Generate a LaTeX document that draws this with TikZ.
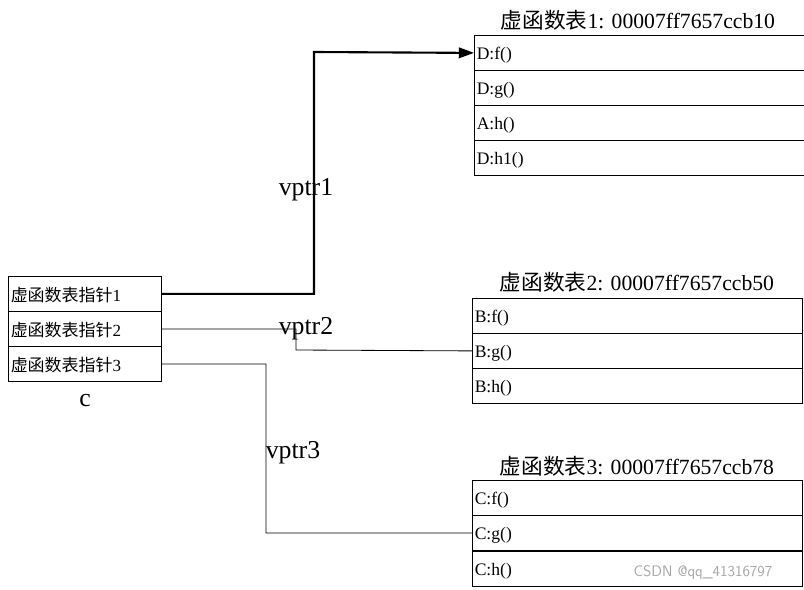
\documentclass[tikz,border=0pt]{standalone}
\usepackage{fontspec}
\setmainfont{Liberation Serif}
\newfontfamily\cjk{Noto Sans CJK SC}
\usetikzlibrary{arrows.meta,positioning}
\tikzset{
  cell/.style={draw, minimum height=35\ux, inner sep=2pt, anchor=north west, text depth=0pt},
  vtcell/.style={cell, minimum width=329\ux, align=left, text width=325\ux, font=\fontsize{15}{15}\selectfont},
  ptrcell/.style={cell, minimum width=152\ux, text width=148\ux, font=\fontsize{14.5}{14.5}\selectfont},
  title/.style={font=\fontsize{18.5}{18.5}\selectfont},
  ptrlbl/.style={font=\fontsize{22}{22}\selectfont},
}
\newlength{\ux}
\setlength{\ux}{0.03cm}
\begin{document}
\begin{tikzpicture}[x=0.03cm, y=-0.03cm, line width=0.7pt]
	\useasboundingbox (0,0) rectangle (804,590);
	% pointer table of c
	\node[ptrcell] (p1) at (8,276) {{\cjk 虚函数表指针}1};
	\node[ptrcell] (p2) at (8,311) {{\cjk 虚函数表指针}2};
	\node[ptrcell] (p3) at (8,346) {{\cjk 虚函数表指针}3};
	\node[font=\fontsize{22}{22}\selectfont] (c) at (85,401) {c};
	
	% table 1
	\node[title] (t1) at (638,20) {{\cjk 虚函数表}1: 00007ff7657ccb10};
	\node[vtcell] (a1) at (474,35) {D:f()};
	\node[vtcell] (a2) at (474,70) {D:g()};
	\node[vtcell] (a3) at (474,105) {A:h()};
	\node[vtcell] (a4) at (474,140) {D:h1()};
	
	% table 2
	\node[title] (t2) at (637,282) {{\cjk 虚函数表}2: 00007ff7657ccb50};
	\node[vtcell] (b1) at (472,298) {B:f()};
	\node[vtcell] (b2) at (472,333) {B:g()};
	\node[vtcell] (b3) at (472,368) {B:h()};
	
	% table 3
	\node[title] (t3) at (637,466) {{\cjk 虚函数表}3: 00007ff7657ccb78};
	\node[vtcell] (d1) at (472,480) {C:f()};
	\node[vtcell] (d2) at (472,515) {C:g()};
	\node[vtcell] (d3) at (472,551) {C:h()};
	
	% pointers
	\draw[line width=1.8pt, -{Triangle[length=13pt,width=9pt]}] (p1.east) -| (314,52) -- (a1.west);
	\draw (p2.east) -| (296,350) -- (b2.west);
	\draw (p3.east) -| (266,533) -- (d2.west);
	\node[ptrlbl] (v1) at (306,190) {vptr1};
	\node[ptrlbl] (v2) at (306,329) {vptr2};
	\node[ptrlbl] (v3) at (293,453) {vptr3};
	
	\node[text=gray!70, font=\fontsize{13}{13}\selectfont\sffamily] (wm) at (703,573) {CSDN @qq\_41316797};
\end{tikzpicture}
\end{document}
